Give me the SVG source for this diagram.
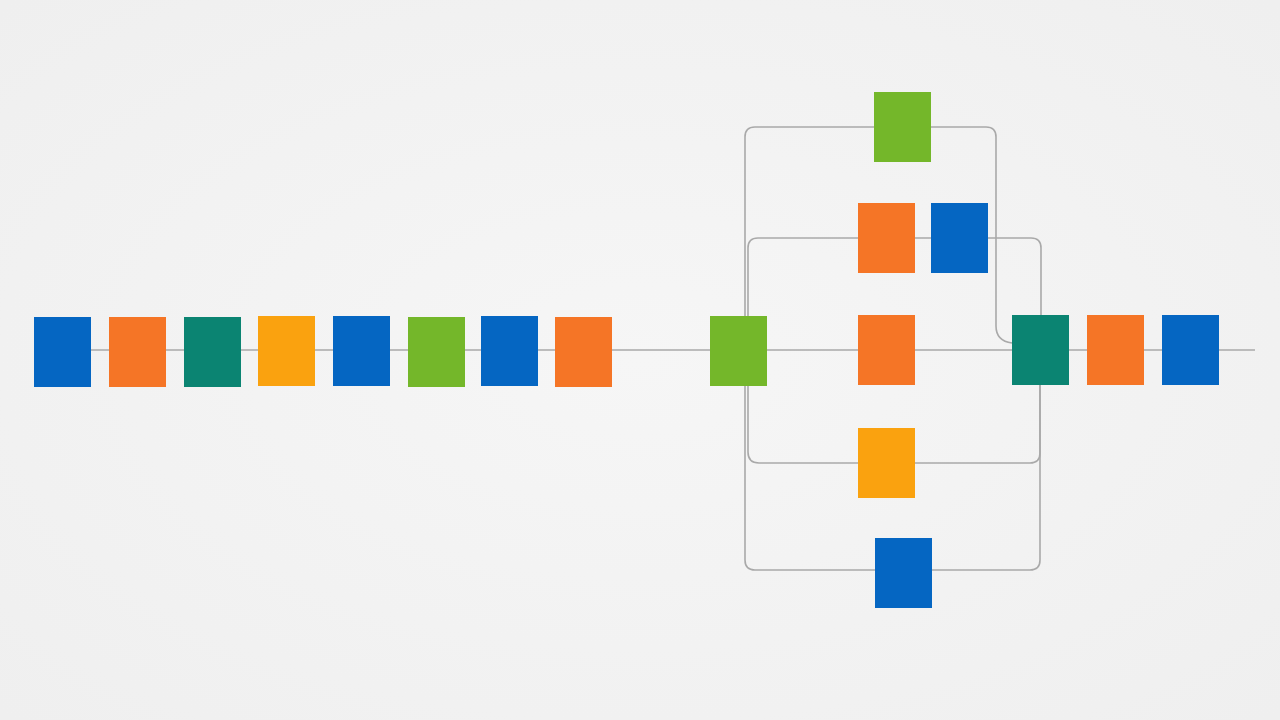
<svg xmlns="http://www.w3.org/2000/svg" width="1280" height="720" viewBox="0 0 1280 720">
<defs>
<radialGradient id="bg" cx="50%" cy="50%" r="70%">
<stop offset="0" stop-color="#f6f6f6"/>
<stop offset="1" stop-color="#efefef"/>
</radialGradient>
</defs>
<style>
.ln{fill:none;stroke:#a9a9a9;stroke-width:1.6}
.b{fill:#0566c2}
.o{fill:#f57526}
.t{fill:#0b8472}
.y{fill:#faa20f}
.g{fill:#74b72a}
</style>
<rect width="1280" height="720" fill="url(#bg)"/>
<g id="connectors">
<path class="ln" d="M91 350 H1255"/>
<path class="ln" d="M745 350 V137 Q745 127 755 127 H986 Q996 127 996 137 V326 Q996 341 1012 343"/>
<path class="ln" d="M748 350 V248 Q748 238 758 238 H1031 Q1041 238 1041 248 V316"/>
<path class="ln" d="M748 386 V452 Q748 463 759 463 H1030 Q1040 463 1040 453 V385"/>
<path class="ln" d="M745 386 V560 Q745 570 755 570 H1030 Q1040 570 1040 560 V385"/>
</g>
<g id="n1"><rect class="b" x="34" y="317" width="57" height="70"/></g>
<g id="n2"><rect class="o" x="109" y="317" width="57" height="70"/></g>
<g id="n3"><rect class="t" x="184" y="317" width="57" height="70"/></g>
<g id="n4"><rect class="y" x="258" y="316" width="57" height="70"/></g>
<g id="n5"><rect class="b" x="333" y="316" width="57" height="70"/></g>
<g id="n6"><rect class="g" x="408" y="317" width="57" height="70"/></g>
<g id="n7"><rect class="b" x="481" y="316" width="57" height="70"/></g>
<g id="n8"><rect class="o" x="555" y="317" width="57" height="70"/></g>
<g id="n9"><rect class="g" x="710" y="316" width="57" height="70"/></g>
<g id="n10"><rect class="g" x="874" y="92" width="57" height="70"/></g>
<g id="n11"><rect class="o" x="858" y="203" width="57" height="70"/></g>
<g id="n12"><rect class="b" x="931" y="203" width="57" height="70"/></g>
<g id="n13"><rect class="o" x="858" y="315" width="57" height="70"/></g>
<g id="n14"><rect class="y" x="858" y="428" width="57" height="70"/></g>
<g id="n15"><rect class="b" x="875" y="538" width="57" height="70"/></g>
<g id="n16"><rect class="t" x="1012" y="315" width="57" height="70"/></g>
<g id="n17"><rect class="o" x="1087" y="315" width="57" height="70"/></g>
<g id="n18"><rect class="b" x="1162" y="315" width="57" height="70"/></g>
</svg>
